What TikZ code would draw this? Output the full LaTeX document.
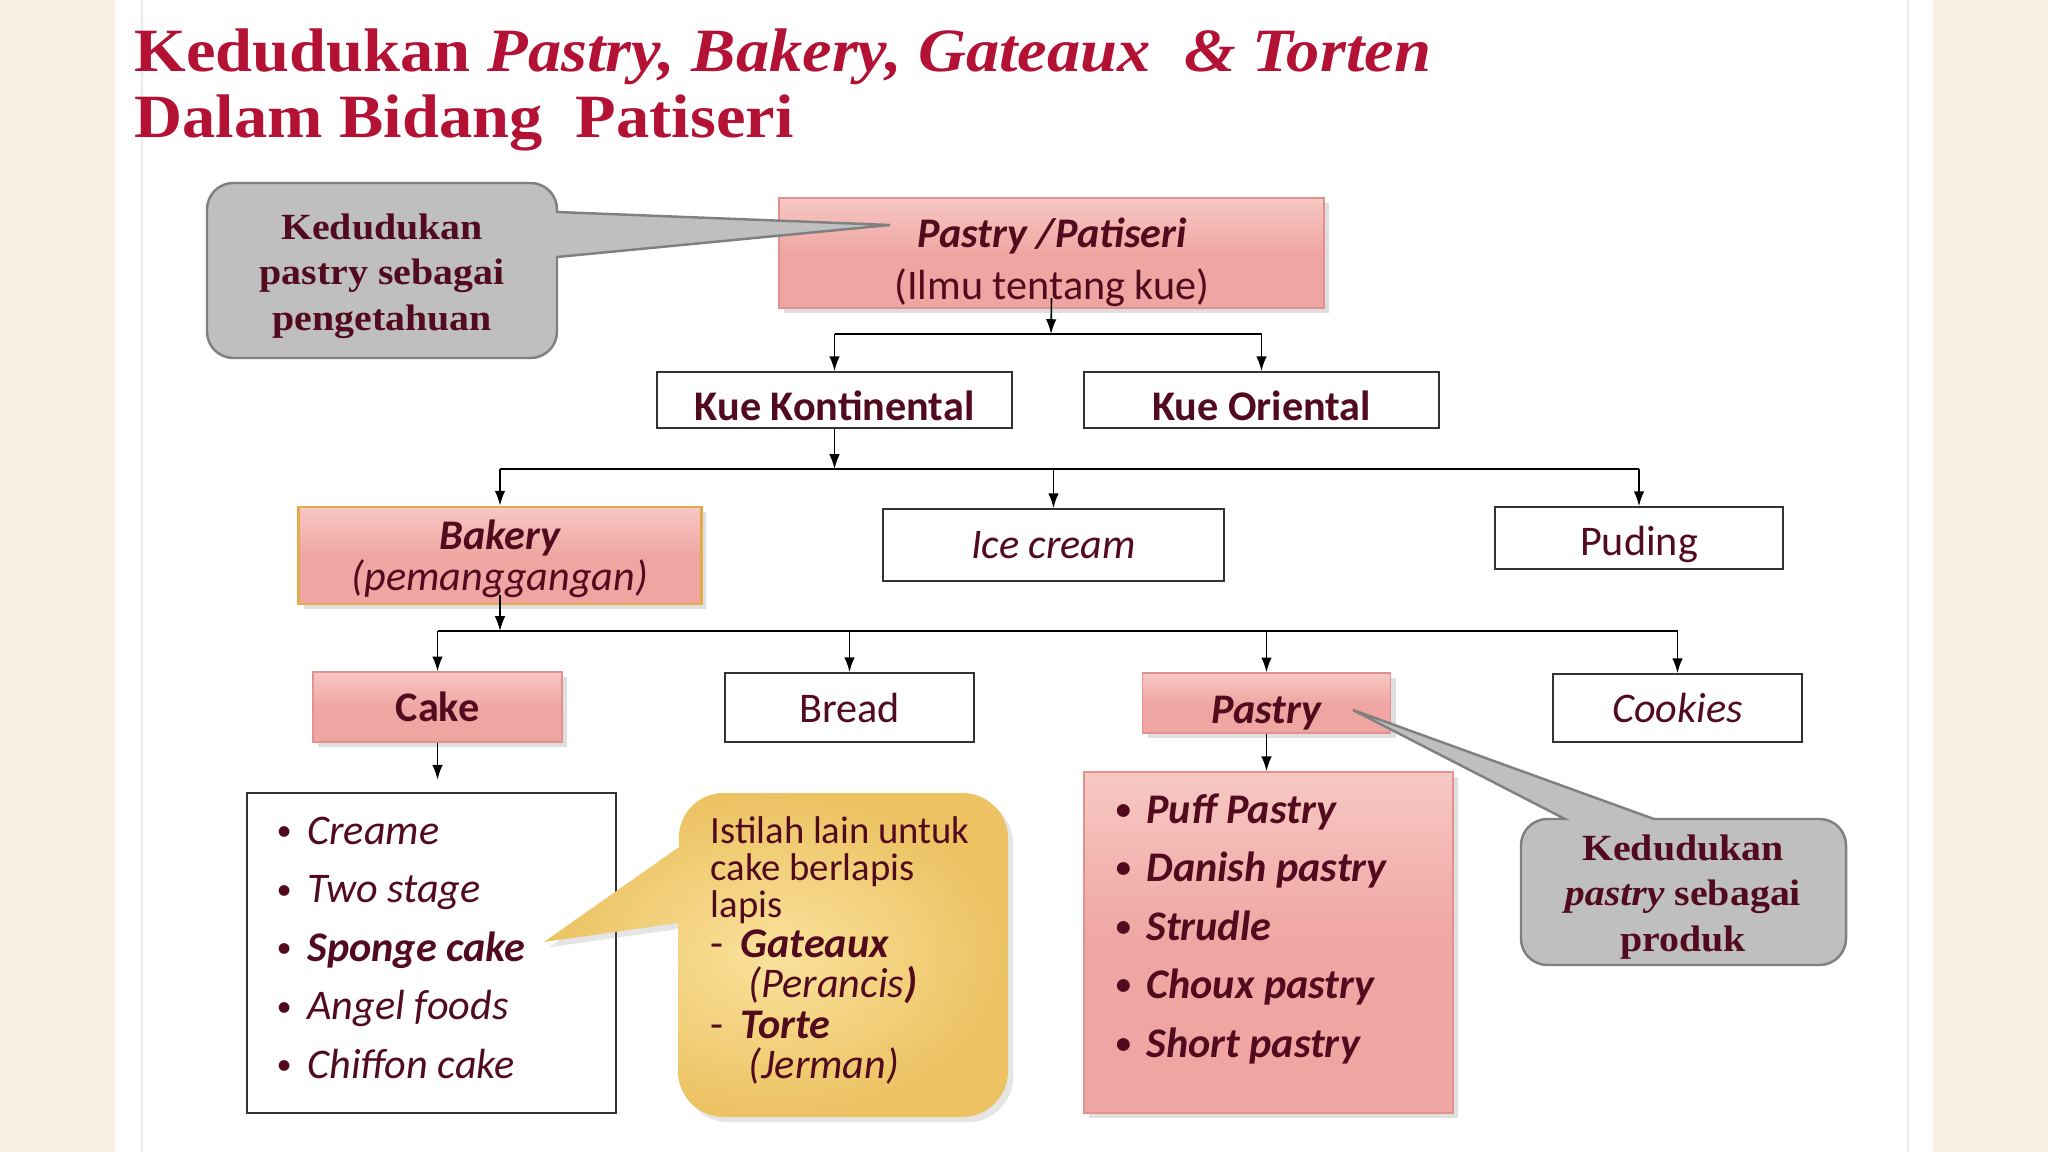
\documentclass[tikz,border=0pt]{standalone}
\usepackage{graphicx}
\usepackage{fontspec}
\setmainfont{Carlito}
\newfontfamily\cambfont[FakeStretch=1.08]{Liberation Serif}
\usetikzlibrary{arrows.meta,shadows}

\definecolor{ink}{RGB}{82,10,30}
\definecolor{titlered}{RGB}{180,18,52}
\definecolor{pinkfill}{RGB}{239,166,162}
\definecolor{pinklight}{RGB}{247,200,196}
\definecolor{pinkedge}{RGB}{226,146,142}
\definecolor{bakeryedge}{RGB}{228,172,72}
\definecolor{yellowin}{RGB}{250,226,156}
\definecolor{yellowout}{RGB}{236,194,98}
\definecolor{cream}{RGB}{245,240,226}

\newcommand{\blt}{\makebox[9.6pt][l]{\hspace{0.8pt}\raisebox{1pt}{\scalebox{0.72}{\textbullet}}}}

\begin{document}
\begin{tikzpicture}[x=0.01cm, y=-0.01cm, >={Latex[length=4.2pt,width=3pt]},
  every node/.style={inner sep=0pt, text=ink, font=\fontsize{12}{14.4}\selectfont},
  pinkbox/.style={draw=pinkedge, line width=0.4pt, top color=pinklight,
    bottom color=pinkfill, middle color=pinkfill, text depth=0pt,
    drop shadow={opacity=0.25, shadow xshift=1.5pt, shadow yshift=-1.5pt}},
  plainbox/.style={draw=black!80, line width=0.5pt, fill=white, text depth=0pt},
  link/.style={->, line width=0.45pt},
  bar/.style={line width=0.8pt},
  grayco/.style={draw=black!50, line width=0.7pt, fill=black!25},
  cotext/.style={align=center, font=\cambfont\bfseries\fontsize{10.5}{13}\selectfont}]
  \useasboundingbox (0,0) rectangle (2048,1152);
  % Slide background with the cream side strips.
  \fill[cream] (0,0) rectangle (2048,1152);
  \fill[white] (115,0) rectangle (1933,1152);
  \draw[black!8] (142,0) -- (142,1152);
  \draw[black!8] (1908,0) -- (1908,1152);
  % Title.
  \node[anchor=base west, text=titlered, font=\cambfont\bfseries\fontsize{17.5}{21}\selectfont]
    (title1) at (134,72) {Kedudukan \textit{Pastry, Bakery, Gateaux\ \ \& Torten}};
  \node[anchor=base west, text=titlered, font=\cambfont\bfseries\fontsize{17.5}{21}\selectfont]
    (title2) at (134,138) {Dalam Bidang\ \ Patiseri};
  % Root of the tree.
  \node[pinkbox, minimum width=5.45cm, minimum height=1.1cm] (patiseri) at (1051.5,253) {};
  \node[align=center, font=\fontsize{12}{14.8}\selectfont] (patiserilabel) at (1052,262)
    {\textbf{\textit{Pastry /Patiseri}}\\(Ilmu tentang kue)};
  % Second row.
  \node[plainbox, minimum width=3.55cm, minimum height=0.56cm, text height=11.9pt,
    font=\bfseries\fontsize{12}{14.4}\selectfont] (kontinental) at (834.5,400) {Kue Kontinental};
  \node[plainbox, minimum width=3.55cm, minimum height=0.56cm, text height=11.9pt,
    font=\bfseries\fontsize{12}{14.4}\selectfont] (oriental) at (1261.5,400) {Kue Oriental};
  % Third row.
  \node[pinkbox, draw=bakeryedge, line width=0.8pt, minimum width=4.02cm, minimum height=0.97cm,
    align=center, font=\itshape\fontsize{12}{11.7}\selectfont]
    (bakery) at (500,555.5) {\textbf{Bakery}\\(pemanggangan)};
  \node[plainbox, minimum width=3.41cm, minimum height=0.72cm, font=\itshape\fontsize{12}{14.4}\selectfont]
    (icecream) at (1053.5,545) {Ice cream};
  \node[plainbox, minimum width=2.88cm, minimum height=0.62cm, text height=9.7pt] (puding) at (1639,538) {Puding};
  % Fourth row.
  \node[pinkbox, minimum width=2.49cm, minimum height=0.70cm, font=\bfseries\fontsize{12}{14.4}\selectfont]
    (cake) at (437.5,707) {Cake};
  \node[plainbox, minimum width=2.49cm, minimum height=0.69cm] (bread) at (849.5,707.5) {Bread};
  \node[pinkbox, minimum width=2.48cm, minimum height=0.60cm, text height=11.4pt,
    font=\bfseries\itshape\fontsize{12}{14.4}\selectfont] (pastry) at (1266.5,703) {Pastry};
  \node[plainbox, minimum width=2.49cm, minimum height=0.68cm, font=\itshape\fontsize{12}{14.4}\selectfont]
    (cookies) at (1677.5,708) {Cookies};
  % Lists under Cake and Pastry.
  \node[plainbox, minimum width=3.69cm, minimum height=3.2cm] (cakelist) at (431.5,953) {};
  \foreach \entry [count=\i] in {\textit{Creame}, \textit{Two stage}, \textbf{\textit{Sponge cake}},
      \textit{Angel foods}, \textit{Chiffon cake}}
    \node[anchor=base west] (cakeitem\i) at (273,{844+58.6*(\i-1)}) {\blt\entry};
  \node[pinkbox, minimum width=3.69cm, minimum height=3.41cm] (pastrylist) at (1268.5,942.5) {};
  \foreach \entry [count=\i] in {Puff Pastry, Danish pastry, Strudle, Choux pastry, Short pastry}
    \node[anchor=base west, font=\bfseries\itshape\fontsize{12}{14.4}\selectfont] (pastryitem\i)
      at (1112,{823+58.5*(\i-1)}) {\blt\entry};
  % Connectors.
  \coordinate (fork1) at (1051,334);
  \coordinate (fork2) at (834,469);
  \coordinate (fork3) at (500,631);
  \draw[link] ([yshift=3pt]patiseri.south) -- (fork1);
  \draw[bar] (kontinental.north |- fork1) -- (oriental.north |- fork1);
  \foreach \n in {kontinental,oriental}
    \draw[link] (\n.north |- fork1) -- (\n.north);
  \draw[link] (kontinental.south) -- (kontinental.south |- fork2);
  \draw[bar] (bakery.north |- fork2) -- (puding.north |- fork2);
  \foreach \n in {bakery,icecream,puding}
    \draw[link] (\n.north |- fork2) -- (\n.north);
  \draw[link] ([yshift=3pt]bakery.south) -- (bakery.south |- fork3);
  \draw[bar] (cake.north |- fork3) -- (cookies.north |- fork3);
  \foreach \n in {cake,bread,pastry,cookies}
    \draw[link] (\n.north |- fork3) -- (\n.north);
  \draw[link] (cake.south) -- ([yshift=3.5pt]cakelist.north -| cake.south);
  \draw[link] (pastry.south) -- (pastry.south |- pastrylist.north);
  % Grey callout pointing at the root.
  \draw[grayco] (380,183) [rounded corners=7.5pt] -- (557,183) [sharp corners] -- (557,212)
    -- (890,225) -- (557,257) [rounded corners=7.5pt] -- (557,358) -- (207,358) -- (207,183) -- cycle;
  \node[cotext] (ilmu) at (382,276) {Kedudukan\\pastry sebagai\\pengetahuan};
  % Grey callout pointing at Pastry.
  \draw[grayco] (1700,819) [rounded corners=7.5pt] -- (1846,819) -- (1846,965) -- (1521,965)
    -- (1521,819) [sharp corners] -- (1565,819) -- (1353,710) -- (1654,819) -- cycle;
  \node[cotext] (produk) at (1683,897) {Kedudukan\\\textit{pastry} sebagai\\produk};
  % Yellow callout on Sponge cake.
  \shade[inner color=yellowin, outer color=yellowout,
    drop shadow={opacity=0.2, shadow xshift=1.5pt, shadow yshift=-1.5pt}]
    (840,793) [rounded corners=13pt] -- (1008,793) -- (1008,1117) -- (678,1117) [sharp corners]
    -- (678,923) -- (544,942) -- (679,847) [rounded corners=13pt] -- (678,793) -- cycle;
  \foreach \y/\ln in {843/{Istilah lain untuk}, 880/{cake berlapis}, 917/{lapis}}
    \node[anchor=base west, font=\fontsize{11}{13}\selectfont] at (710,\y) {\ln};
  \node[anchor=base west] (gateaux) at (710,957) {\makebox[8.5pt][l]{-}\textbf{\textit{Gateaux}}};
  \node[anchor=base west] (perancis) at (748,997) {\textit{(Perancis}\textbf{\textit{)}}};
  \node[anchor=base west] (torte) at (710,1038) {\makebox[8.5pt][l]{-}\textbf{\textit{Torte}}};
  \node[anchor=base west] (jerman) at (748,1078) {\textit{(Jerman)}};
\end{tikzpicture}
\end{document}
